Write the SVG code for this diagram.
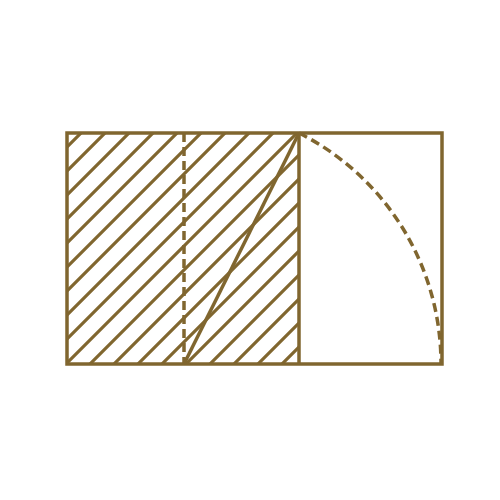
<svg xmlns="http://www.w3.org/2000/svg" width="500" height="500" viewBox="0 0 500 500">
<style>
.s{stroke:#80662f;fill:none;stroke-width:3.5;stroke-linecap:butt}
.h{stroke:#80662f;stroke-width:3.2}
.d{stroke-dasharray:9 5}
</style>
<defs>
<clipPath id="sq"><rect x="67" y="133" width="232" height="231"/></clipPath>
</defs>
<rect width="500" height="500" fill="#fff"/>
<g id="hatch" clip-path="url(#sq)" class="h">
<line x1="14" y1="200" x2="264" y2="-50"/>
<line x1="38" y1="200" x2="288" y2="-50"/>
<line x1="-100" y1="362" x2="300" y2="-38"/>
<line x1="-100" y1="386" x2="300" y2="-14"/>
<line x1="-100" y1="410" x2="300" y2="10"/>
<line x1="-100" y1="434" x2="300" y2="34"/>
<line x1="-100" y1="458" x2="300" y2="58"/>
<line x1="-100" y1="482" x2="300" y2="82"/>
<line x1="-100" y1="506" x2="300" y2="106"/>
<line x1="-100" y1="530" x2="400" y2="30"/>
<line x1="-100" y1="554" x2="400" y2="54"/>
<line x1="-100" y1="578" x2="400" y2="78"/>
<line x1="-100" y1="602" x2="400" y2="102"/>
<line x1="-100" y1="626" x2="400" y2="126"/>
<line x1="-100" y1="650" x2="400" y2="150"/>
<line x1="-100" y1="674" x2="400" y2="174"/>
<line x1="-100" y1="698" x2="400" y2="198"/>
<line x1="-100" y1="722" x2="400" y2="222"/>
<line x1="-100" y1="746" x2="400" y2="246"/>
</g>
<g id="frame" class="s">
<rect x="67" y="133" width="375" height="231"/>
<line x1="299" y1="133" x2="299" y2="364"/>
</g>
<g id="connectors" class="s">
<line class="d" x1="184" y1="133" x2="184" y2="364"/>
<line x1="184" y1="364" x2="299" y2="133"/>
<path class="d" d="M299 133 A258 258 0 0 1 441 364"/>
</g>
</svg>
